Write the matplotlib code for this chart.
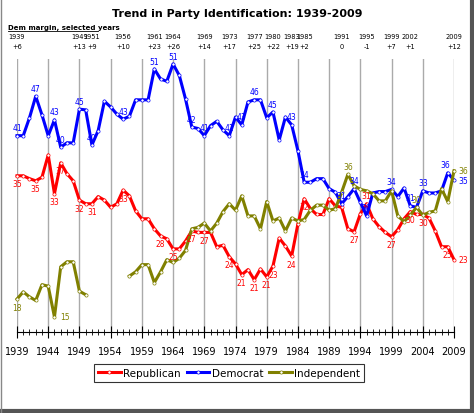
import matplotlib
matplotlib.use("Agg")
import matplotlib.pyplot as plt
import numpy as np

years = list(range(1939, 2010))
dem = [41,41,43.5,46.5,43.9,41,43.2,39.4,40,40,44.7,44.6,39.7,41.7,45.8,45,44,43.3,43.7,46,46,46,50.3,48.9,48.6,51,49.4,46.1,42.2,42,41,42.4,43,41.8,41,43.6,
       42.5,45.7,46,46,43.5,44.3,40.4,43.6,42.5,38.9,34.5,34.5,35,35,33.6,33.1,31.5,32.5,33.6,31.7,29.8,33,33.2,33.2,33.5,32.5,33.7,31.2,31,33.3,33,33,33.3,35.8,34.8]
rep = [35.4,35.4,35,34.7,35.2,38.3,32.9,37.2,35.7,34.7,32,31.5,31.5,32.5,32,31,31.5,33.4,32.6,30.5,29.4,29.4,28,27,26.6,25.2,25.2,26.3,27.7,27.5,27.5,27.5,25.5,25.7,24.1,23.1,
       21.6,22.3,20.9,22.4,21.3,22.8,26.7,25.6,24.2,28.7,32.2,30.8,30,30,32.2,31.2,31,28,27.6,30.1,31.5,29.4,28.3,27.5,26.9,27.9,29.4,30.4,30,30,29.5,27.7,25.5,25.5,23.7]
ind = [18.2,19.2,18.5,18,20.2,20,15.7,22.7,23.4,23.4,19.3,18.8,None,None,None,None,None,None,21.4,22,23,23,20.5,22,23.7,23.3,23.9,25,28,28.2,28.8,27.7,28.8,30.4,31.5,30.6,
       32.6,29.8,29.8,28,31.8,29.1,29.5,27.7,29.5,29.1,29.3,30.6,31.3,31.3,30.6,30.8,33.1,35.6,34,33.5,33.3,32.9,31.9,31.9,33.3,29.8,29,29.9,31,29.9,30.3,30.5,33.6,31.8,36.1]

dem_labels = {1939:"41",1942:"47",1945:"43",1946:"40",1949:"45",1951:"40",1956:"43",1961:"51",1964:"51",1967:"42",1969:"41",
              1973:"41",1975:"43",1977:"46",1980:"45",1983:"43",1985:"34",1991:"31",1993:"34",1995:"30",1999:"34",2002:"31",2004:"33",2008:"36",2009:"35"}
rep_labels = {1939:"35",1942:"35",1945:"33",1946:"37",1949:"32",1951:"31",1956:"33",1962:"28",1964:"25",1967:"27",1969:"27",1973:"24",
              1975:"21",1977:"21",1979:"21",1980:"23",1983:"24",1985:"32",1993:"27",1995:"31",1999:"27",2002:"30",2004:"30",2008:"25",2009:"23"}
ind_labels = {1939:"18",1945:"15",1992:"36",2003:"30",2009:"36"}

margin_years = [1939,1949,1951,1956,1961,1964,1969,1973,1977,1980,1983,1985,1991,1995,1999,2002,2009]
margins = ["+6","+13","+9","+10","+23","+26","+14","+17","+25","+22","+19","+2","0","-1","+7","+1","+12"]

W, H = 474, 414
fig = plt.figure(figsize=(W/100, H/100), dpi=100)
fig.patch.set_facecolor("white")
ax = fig.add_axes([17/W, 1-333/H, (454-17)/W, (333-60)/H])
ax.set_xlim(1939, 2009)
ax.set_ylim(13.6, 51.7)
for s in ["top", "right", "left"]:
    ax.spines[s].set_visible(False)
ax.set_yticks([])
ax.set_xticks(range(1939, 2010, 5))
ax.set_xticks(range(1939, 2010), minor=True)
ax.tick_params(axis="x", which="major", direction="inout", length=8, labelsize=7, pad=6)
ax.tick_params(axis="x", which="minor", direction="inout", length=5)
for yv in range(1939, 2010, 5):
    ax.axvline(yv, color="#aaaaaa", lw=1, zorder=0)

ya = np.array(years, dtype=float)
ia = np.array([np.nan if v is None else v for v in ind])
kw = dict(lw=2.2, marker="o", ms=2.3, mfc="white", mew=0.5, clip_on=False)
ax.plot(ya, rep, color="#ff0000", mec="#ff0000", label="Republican", **kw)
ax.plot(ya, dem, color="#0000ff", mec="#0000ff", label="Democrat", **kw)
ax.plot(ya, ia, color="#808000", mec="#808000", label="Independent", **kw)

# label placement tweaks (offsets in points)
special = {("r", 1995): (0, 2.5), ("r", 2009): (3, 0), ("d", 2009): (3, 0), ("i", 2009): (3, 0),
           ("i", 1939): (0, -2.5), ("i", 1945): (4, 0), ("d", 2008): (-2, 2.5)}

def lab(key, d, series, color, dy):
    for yr, t in d.items():
        v = series[yr-1939]
        ox, oy = special.get((key, yr), (0, dy))
        ha = "left" if ox > 0 else ("right" if ox < 0 and oy == 0 else "center")
        va = "center" if oy == 0 else ("bottom" if oy > 0 else "top")
        ax.annotate(t, (yr, v), xytext=(ox, oy), textcoords="offset points", ha=ha, va=va,
                    fontsize=5.5, color=color, annotation_clip=False)
lab("d", dem_labels, dem, "#0000ff", 2.5)
lab("r", rep_labels, rep, "#ff0000", -2.5)
lab("i", ind_labels, list(ia), "#808000", 2.5)

for yr, m in zip(margin_years, margins):
    x = (17 + (yr-1939)*(454-17)/70)/W
    fig.text(x, 1-37/H, str(yr), ha="center", va="center", fontsize=4.8)
    fig.text(x, 1-47/H, m, ha="center", va="center", fontsize=4.8)

fig.text(0.5, 1-14/H, "Trend in Party Identification: 1939-2009", ha="center", va="center", fontsize=8, fontweight="bold")
fig.text(8/W, 1-28/H, "Dem margin, selected years", ha="left", va="center", fontsize=5, fontweight="bold")
fig.add_artist(plt.Line2D([8/W, 98/W], [1-32/H, 1-32/H], color="black", lw=0.6))

leg = fig.legend(loc="center", bbox_to_anchor=(229/W, 1-374/H), ncol=3, fontsize=7.5, frameon=True, fancybox=False,
                 edgecolor="black", handlelength=2.2, handletextpad=0.2, columnspacing=0.6, borderpad=0.4)
leg.get_frame().set_linewidth(0.8)

fig.add_artist(plt.Line2D([1-2/W, 1-2/W], [0, 1], color="#555555", lw=3))
fig.add_artist(plt.Line2D([0, 1], [2/H, 2/H], color="#555555", lw=3))
fig.add_artist(plt.Line2D([1/W, 1/W], [0, 1], color="#888888", lw=1))
fig.savefig("out.png", dpi=100)
